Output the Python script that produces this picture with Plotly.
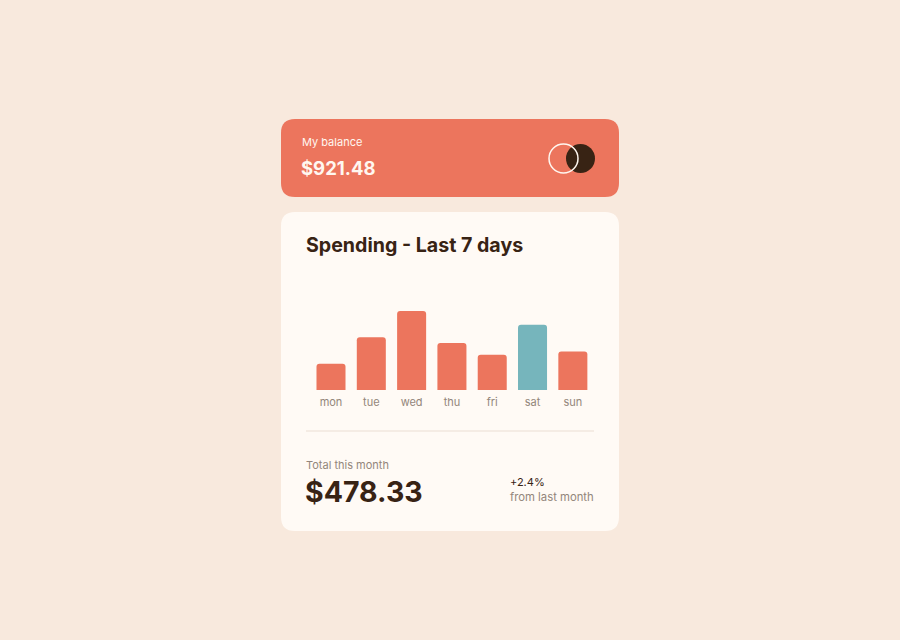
import plotly.graph_objects as go

# Spending data for the last 7 days
days = ["mon", "tue", "wed", "thu", "fri", "sat", "sun"]
amounts = [17.45, 34.91, 52.36, 31.07, 23.39, 43.28, 25.48]
highlight_day = "sat"

balance = "$921.48"
total_month = "$478.33"
change = "+2.4%"

# Palette
red = "#EC755D"
cyan = "#76B5BC"
dark = "#382314"
brown = "#93867B"
cream = "#F8E9DD"
card = "#FFFAF5"
font = "Inter"

W, H = 900, 640


def px(x):
    return x / W


def py(y):
    return 1 - y / H


def round_rect(x0, y0, x1, y1, r):
    # rounded rectangle path in paper coords from pixel coords
    pts = [
        f"M {px(x0 + r)},{py(y0)}",
        f"L {px(x1 - r)},{py(y0)}",
        f"Q {px(x1)},{py(y0)} {px(x1)},{py(y0 + r)}",
        f"L {px(x1)},{py(y1 - r)}",
        f"Q {px(x1)},{py(y1)} {px(x1 - r)},{py(y1)}",
        f"L {px(x0 + r)},{py(y1)}",
        f"Q {px(x0)},{py(y1)} {px(x0)},{py(y1 - r)}",
        f"L {px(x0)},{py(y0 + r)}",
        f"Q {px(x0)},{py(y0)} {px(x0 + r)},{py(y0)}",
        "Z",
    ]
    return " ".join(pts)


colors = [cyan if d == highlight_day else red for d in days]

fig = go.Figure()
fig.add_trace(go.Bar(
    x=days, y=amounts,
    marker=dict(color=colors, cornerradius=3, line=dict(width=0)),
    hovertemplate="$%{y:.2f}<extra></extra>",
))

P = dict(xref="paper", yref="paper")

shapes = [
    # balance card
    dict(type="path", path=round_rect(281, 119, 619, 197, 14),
         fillcolor=red, line=dict(width=0), layer="below", **P),
    # spending card
    dict(type="path", path=round_rect(281, 212, 619, 531, 14),
         fillcolor=card, line=dict(width=0), layer="below", **P),
    # divider
    dict(type="line", x0=px(306), x1=px(594), y0=py(431), y1=py(431),
         line=dict(color="#F5ECE4", width=2), **P),
    # logo circles
    dict(type="circle", x0=px(566), x1=px(595), y0=py(144), y1=py(173),
         fillcolor=dark, line=dict(width=0), **P),
    dict(type="circle", x0=px(549), x1=px(578), y0=py(144), y1=py(173),
         fillcolor="rgba(0,0,0,0)", line=dict(color="#FFF7F0", width=1.5), **P),
]

annotations = [
    dict(x=px(300), y=py(142), text="My balance",
         font=dict(size=11, color="#FFF7F0", family=font)),
    dict(x=px(299), y=py(168), text=f"<b>{balance}</b>",
         font=dict(size=18.5, color="#FFF7F0", family=font)),
    dict(x=px(304), y=py(245), text="<b>Spending - Last 7 days</b>",
         font=dict(size=19.6, color=dark, family=font)),
    dict(x=px(304), y=py(465), text="Total this month",
         font=dict(size=11, color=brown, family=font)),
    dict(x=px(303), y=py(491), text=f"<b>{total_month}</b>",
         font=dict(size=28.5, color=dark, family=font)),
    dict(x=px(508), y=py(482), text=change,
         font=dict(size=11, color=dark, family=font)),
    dict(x=px(508), y=py(497), text="from last month",
         font=dict(size=11.3, color=brown, family=font)),
]
for a in annotations:
    a.update(showarrow=False, xanchor="left", yanchor="middle", **P)

fig.update_layout(
    width=W, height=H,
    margin=dict(l=0, r=0, t=0, b=0),
    paper_bgcolor=cream,
    plot_bgcolor="rgba(0,0,0,0)",
    showlegend=False,
    bargap=0.28,
    shapes=shapes,
    annotations=annotations,
    font=dict(family=font),
    xaxis=dict(domain=[px(310.85), px(593)], showgrid=False, zeroline=False,
               showline=False, ticks="", fixedrange=True, ticklabelstandoff=4,
               tickfont=dict(size=11, color=brown, family=font)),
    yaxis=dict(domain=[py(390), py(300)], range=[0, 59.6], visible=False,
               showgrid=False, zeroline=False, fixedrange=True),
)

fig.write_html("out.html", config={"displayModeBar": False},
               post_script="document.body.style.margin='0';document.body.style.overflow='hidden';")
